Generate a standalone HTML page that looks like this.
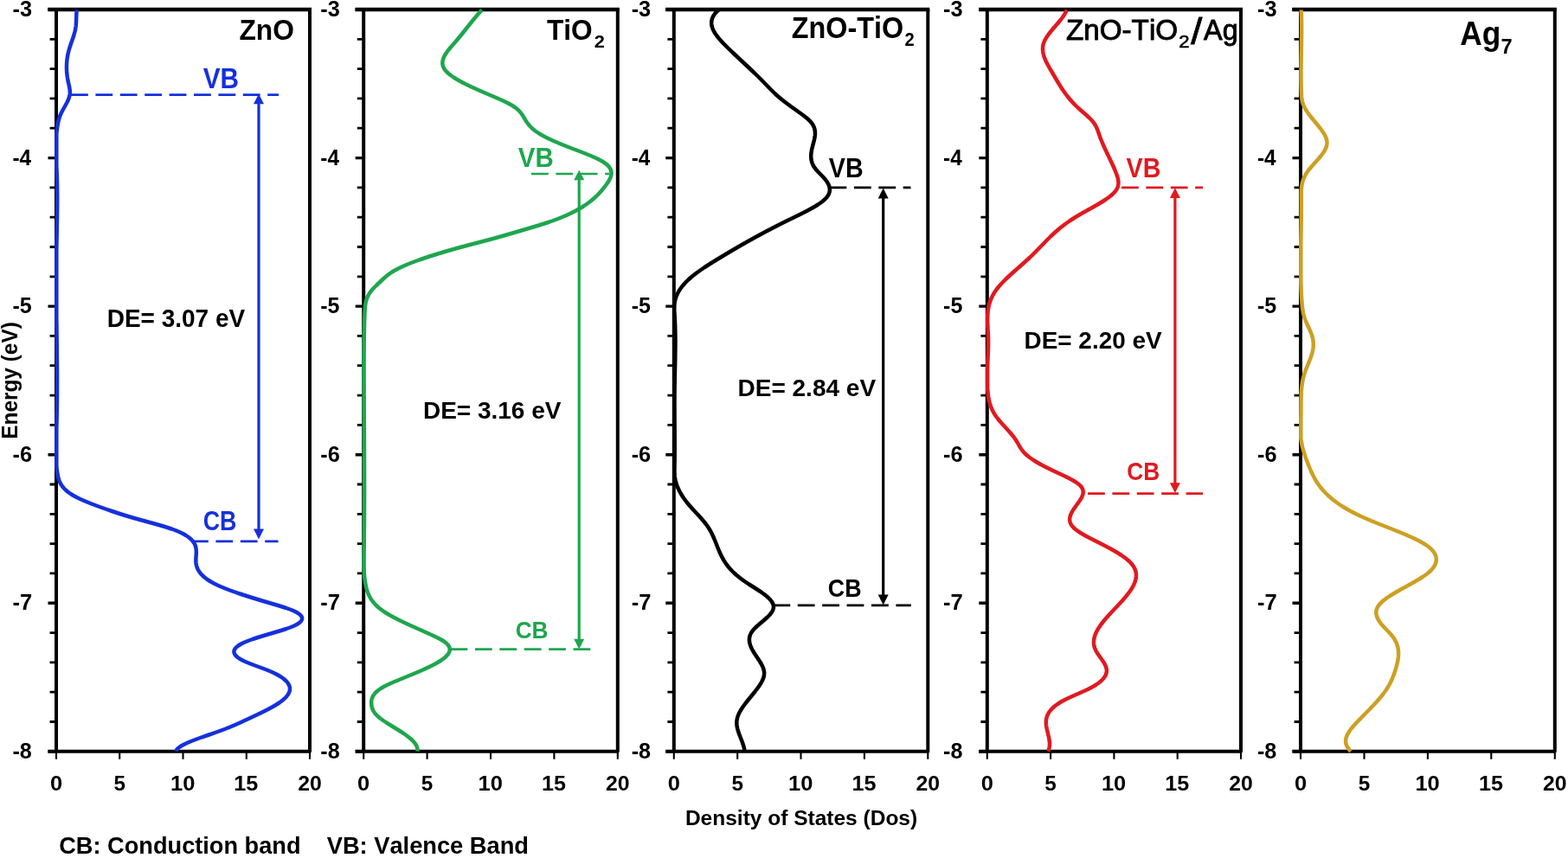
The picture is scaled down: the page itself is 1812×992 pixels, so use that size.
<!DOCTYPE html><html><head><meta charset="utf-8"><title>DOS</title><style>html,body{margin:0;padding:0;background:#fff;}svg{display:block}#w{width:1812px;height:992px;overflow:hidden}</style></head><body><div id="w">
<svg width="1812" height="992" viewBox="0 0 1812 992">
<rect width="1812" height="992" fill="#fff"/>
<path d="M55.5,11.0 H358.0 V868.8 H55.5" fill="none" stroke="#000" stroke-width="4.0" stroke-linejoin="round"/>
<path d="M55.5,11.0 H360.0" fill="none" stroke="#000" stroke-width="4.6"/>
<path d="M65.0,11.0 V868.8" fill="none" stroke="#000" stroke-width="4.0"/>
<path d="M57.6,45.3H65.0M57.6,79.6H65.0M57.6,113.9H65.0M57.6,148.2H65.0M57.6,216.9H65.0M57.6,251.2H65.0M57.6,285.5H65.0M57.6,319.8H65.0M57.6,388.4H65.0M57.6,422.7H65.0M57.6,457.1H65.0M57.6,491.4H65.0M57.6,560.0H65.0M57.6,594.3H65.0M57.6,628.6H65.0M57.6,662.9H65.0M57.6,731.6H65.0M57.6,765.9H65.0M57.6,800.2H65.0M57.6,834.5H65.0" stroke="#000" stroke-width="2.8" fill="none"/>
<path d="M55.5,11.0H65.0M55.5,182.6H65.0M55.5,354.1H65.0M55.5,525.7H65.0M55.5,697.2H65.0M55.5,868.8H65.0" stroke="#000" stroke-width="3.4" fill="none"/>
<path d="M65.0,868.8V877.8M138.2,868.8V877.8M211.5,868.8V877.8M284.8,868.8V877.8M358.0,868.8V877.8" stroke="#000" stroke-width="2.1" fill="none"/>
<path d="M410.7,11.0 H713.8 V868.8 H410.7" fill="none" stroke="#000" stroke-width="4.0" stroke-linejoin="round"/>
<path d="M410.7,11.0 H715.8" fill="none" stroke="#000" stroke-width="4.6"/>
<path d="M420.2,11.0 V868.8" fill="none" stroke="#000" stroke-width="4.0"/>
<path d="M412.8,45.3H420.2M412.8,79.6H420.2M412.8,113.9H420.2M412.8,148.2H420.2M412.8,216.9H420.2M412.8,251.2H420.2M412.8,285.5H420.2M412.8,319.8H420.2M412.8,388.4H420.2M412.8,422.7H420.2M412.8,457.1H420.2M412.8,491.4H420.2M412.8,560.0H420.2M412.8,594.3H420.2M412.8,628.6H420.2M412.8,662.9H420.2M412.8,731.6H420.2M412.8,765.9H420.2M412.8,800.2H420.2M412.8,834.5H420.2" stroke="#000" stroke-width="2.8" fill="none"/>
<path d="M410.7,11.0H420.2M410.7,182.6H420.2M410.7,354.1H420.2M410.7,525.7H420.2M410.7,697.2H420.2M410.7,868.8H420.2" stroke="#000" stroke-width="3.4" fill="none"/>
<path d="M420.2,868.8V877.8M493.6,868.8V877.8M567.0,868.8V877.8M640.4,868.8V877.8M713.8,868.8V877.8" stroke="#000" stroke-width="2.1" fill="none"/>
<path d="M769.3,11.0 H1072.3 V868.8 H769.3" fill="none" stroke="#000" stroke-width="4.0" stroke-linejoin="round"/>
<path d="M769.3,11.0 H1074.3" fill="none" stroke="#000" stroke-width="4.6"/>
<path d="M778.8,11.0 V868.8" fill="none" stroke="#000" stroke-width="4.0"/>
<path d="M771.4,45.3H778.8M771.4,79.6H778.8M771.4,113.9H778.8M771.4,148.2H778.8M771.4,216.9H778.8M771.4,251.2H778.8M771.4,285.5H778.8M771.4,319.8H778.8M771.4,388.4H778.8M771.4,422.7H778.8M771.4,457.1H778.8M771.4,491.4H778.8M771.4,560.0H778.8M771.4,594.3H778.8M771.4,628.6H778.8M771.4,662.9H778.8M771.4,731.6H778.8M771.4,765.9H778.8M771.4,800.2H778.8M771.4,834.5H778.8" stroke="#000" stroke-width="2.8" fill="none"/>
<path d="M769.3,11.0H778.8M769.3,182.6H778.8M769.3,354.1H778.8M769.3,525.7H778.8M769.3,697.2H778.8M769.3,868.8H778.8" stroke="#000" stroke-width="3.4" fill="none"/>
<path d="M778.8,868.8V877.8M852.2,868.8V877.8M925.5,868.8V877.8M998.9,868.8V877.8M1072.3,868.8V877.8" stroke="#000" stroke-width="2.1" fill="none"/>
<path d="M1131.3,11.0 H1434.0 V868.8 H1131.3" fill="none" stroke="#000" stroke-width="4.0" stroke-linejoin="round"/>
<path d="M1131.3,11.0 H1436.0" fill="none" stroke="#000" stroke-width="4.6"/>
<path d="M1140.8,11.0 V868.8" fill="none" stroke="#000" stroke-width="4.0"/>
<path d="M1133.4,45.3H1140.8M1133.4,79.6H1140.8M1133.4,113.9H1140.8M1133.4,148.2H1140.8M1133.4,216.9H1140.8M1133.4,251.2H1140.8M1133.4,285.5H1140.8M1133.4,319.8H1140.8M1133.4,388.4H1140.8M1133.4,422.7H1140.8M1133.4,457.1H1140.8M1133.4,491.4H1140.8M1133.4,560.0H1140.8M1133.4,594.3H1140.8M1133.4,628.6H1140.8M1133.4,662.9H1140.8M1133.4,731.6H1140.8M1133.4,765.9H1140.8M1133.4,800.2H1140.8M1133.4,834.5H1140.8" stroke="#000" stroke-width="2.8" fill="none"/>
<path d="M1131.3,11.0H1140.8M1131.3,182.6H1140.8M1131.3,354.1H1140.8M1131.3,525.7H1140.8M1131.3,697.2H1140.8M1131.3,868.8H1140.8" stroke="#000" stroke-width="3.4" fill="none"/>
<path d="M1140.8,868.8V877.8M1214.1,868.8V877.8M1287.4,868.8V877.8M1360.7,868.8V877.8M1434.0,868.8V877.8" stroke="#000" stroke-width="2.1" fill="none"/>
<path d="M1493.5,11.0 H1796.8 V868.8 H1493.5" fill="none" stroke="#000" stroke-width="4.0" stroke-linejoin="round"/>
<path d="M1493.5,11.0 H1798.8" fill="none" stroke="#000" stroke-width="4.6"/>
<path d="M1503.0,11.0 V868.8" fill="none" stroke="#000" stroke-width="4.0"/>
<path d="M1495.6,45.3H1503.0M1495.6,79.6H1503.0M1495.6,113.9H1503.0M1495.6,148.2H1503.0M1495.6,216.9H1503.0M1495.6,251.2H1503.0M1495.6,285.5H1503.0M1495.6,319.8H1503.0M1495.6,388.4H1503.0M1495.6,422.7H1503.0M1495.6,457.1H1503.0M1495.6,491.4H1503.0M1495.6,560.0H1503.0M1495.6,594.3H1503.0M1495.6,628.6H1503.0M1495.6,662.9H1503.0M1495.6,731.6H1503.0M1495.6,765.9H1503.0M1495.6,800.2H1503.0M1495.6,834.5H1503.0" stroke="#000" stroke-width="2.8" fill="none"/>
<path d="M1493.5,11.0H1503.0M1493.5,182.6H1503.0M1493.5,354.1H1503.0M1493.5,525.7H1503.0M1493.5,697.2H1503.0M1493.5,868.8H1503.0" stroke="#000" stroke-width="3.4" fill="none"/>
<path d="M1503.0,868.8V877.8M1576.5,868.8V877.8M1649.9,868.8V877.8M1723.3,868.8V877.8M1796.8,868.8V877.8" stroke="#000" stroke-width="2.1" fill="none"/>
<path d="M88.80,11.50L88.62,13.00L88.48,14.50L88.37,16.00L88.29,17.50L88.23,19.00L88.18,20.50L88.14,22.00L88.09,23.50L88.03,25.00L87.96,26.50L87.86,28.00L87.73,29.50L87.55,31.00L87.33,32.50L87.06,34.00L86.74,35.50L86.38,37.00L85.98,38.50L85.55,40.00L85.09,41.50L84.60,43.00L84.10,44.50L83.59,46.00L83.06,47.50L82.54,49.00L82.02,50.50L81.51,52.00L81.01,53.50L80.52,55.00L80.06,56.50L79.63,58.00L79.23,59.50L78.87,61.00L78.53,62.50L78.23,64.00L77.97,65.50L77.73,67.00L77.53,68.50L77.35,70.00L77.21,71.50L77.10,73.00L77.03,74.50L76.98,76.00L76.96,77.50L76.97,79.00L77.02,80.50L77.09,82.00L77.19,83.50L77.32,85.00L77.48,86.50L77.67,88.00L77.88,89.50L78.13,91.00L78.40,92.50L78.70,94.00L79.02,95.50L79.37,97.00L79.70,98.50L80.03,100.00L80.31,101.50L80.55,103.00L80.72,104.50L80.81,106.00L80.79,107.50L80.66,109.00L80.41,110.50L80.03,112.00L79.56,113.50L78.98,115.00L78.34,116.50L77.62,118.00L76.85,119.50L76.05,121.00L75.21,122.50L74.37,124.00L73.52,125.50L72.69,127.00L71.88,128.50L71.11,130.00L70.39,131.50L69.74,133.00L69.15,134.50L68.63,136.00L68.18,137.50L67.77,139.00L67.41,140.50L67.09,142.00L66.80,143.50L66.54,145.00L66.30,146.50L66.08,148.00L65.88,149.50L65.70,151.00L65.54,152.50L65.39,154.00L65.30,155.50L65.30,157.00L65.30,158.50L65.30,160.00L65.30,161.50L65.30,163.00L65.30,164.50L65.30,166.00L65.30,167.50L65.30,169.00L65.30,170.50L65.30,172.00L65.30,173.50L65.30,175.00L65.30,176.50L65.30,178.00L65.30,179.50L65.30,181.00L65.30,182.50L65.30,184.00L65.30,185.50L65.30,187.00L65.30,188.50L65.30,190.00L65.30,191.50L65.37,193.00L65.43,194.50L65.50,196.00L65.56,197.50L65.62,199.00L65.68,200.50L65.73,202.00L65.78,203.50L65.82,205.00L65.87,206.50L65.91,208.00L65.94,209.50L65.98,211.00L66.01,212.50L66.04,214.00L66.06,215.50L66.08,217.00L66.10,218.50L66.12,220.00L66.13,221.50L66.14,223.00L66.15,224.50L66.16,226.00L66.17,227.50L66.17,229.00L66.17,230.50L66.17,232.00L66.16,233.50L66.16,235.00L66.15,236.50L66.14,238.00L66.13,239.50L66.12,241.00L66.10,242.50L66.09,244.00L66.07,245.50L66.05,247.00L66.04,248.50L66.01,250.00L65.99,251.50L65.97,253.00L65.95,254.50L65.92,256.00L65.90,257.50L65.87,259.00L65.85,260.50L65.82,262.00L65.79,263.50L65.76,265.00L65.73,266.50L65.70,268.00L65.68,269.50L65.65,271.00L65.62,272.50L65.59,274.00L65.56,275.50L65.53,277.00L65.50,278.50L65.47,280.00L65.44,281.50L65.41,283.00L65.39,284.50L65.36,286.00L65.33,287.50L65.31,289.00L65.30,290.50L65.30,292.00L65.30,293.50L65.30,295.00L65.30,296.50L65.30,298.00L65.30,299.50L65.30,301.00L65.30,302.50L65.30,304.00L65.30,305.50L65.30,307.00L65.30,308.50L65.30,310.00L65.30,311.50L65.30,313.00L65.30,314.50L65.30,316.00L65.30,317.50L65.30,319.00L65.30,320.50L65.30,322.00L65.30,323.50L65.30,325.00L65.30,326.50L65.30,328.00L65.30,329.50L65.30,331.00L65.30,332.50L65.30,334.00L65.30,335.50L65.30,337.00L65.30,338.50L65.30,340.00L65.30,341.50L65.30,343.00L65.30,344.50L65.30,346.00L65.30,347.50L65.30,349.00L65.30,350.50L65.30,352.00L65.30,353.50L65.30,355.00L65.30,356.50L65.30,358.00L65.30,359.50L65.30,361.00L65.30,362.50L65.30,364.00L65.30,365.50L65.32,367.00L65.34,368.50L65.36,370.00L65.38,371.50L65.39,373.00L65.41,374.50L65.43,376.00L65.45,377.50L65.47,379.00L65.49,380.50L65.51,382.00L65.52,383.50L65.54,385.00L65.56,386.50L65.58,388.00L65.60,389.50L65.62,391.00L65.64,392.50L65.65,394.00L65.67,395.50L65.69,397.00L65.71,398.50L65.73,400.00L65.74,401.50L65.76,403.00L65.78,404.50L65.79,406.00L65.81,407.50L65.82,409.00L65.84,410.50L65.85,412.00L65.87,413.50L65.88,415.00L65.90,416.50L65.91,418.00L65.92,419.50L65.93,421.00L65.94,422.50L65.95,424.00L65.96,425.50L65.97,427.00L65.98,428.50L65.99,430.00L66.00,431.50L66.00,433.00L66.01,434.50L66.01,436.00L66.02,437.50L66.02,439.00L66.02,440.50L66.02,442.00L66.02,443.50L66.02,445.00L66.02,446.50L66.02,448.00L66.01,449.50L66.01,451.00L66.00,452.50L66.00,454.00L65.99,455.50L65.98,457.00L65.97,458.50L65.96,460.00L65.95,461.50L65.93,463.00L65.92,464.50L65.90,466.00L65.88,467.50L65.87,469.00L65.84,470.50L65.82,472.00L65.80,473.50L65.78,475.00L65.75,476.50L65.72,478.00L65.69,479.50L65.66,481.00L65.63,482.50L65.60,484.00L65.56,485.50L65.53,487.00L65.49,488.50L65.45,490.00L65.41,491.50L65.36,493.00L65.32,494.50L65.30,496.00L65.30,497.50L65.30,499.00L65.30,500.50L65.30,502.00L65.30,503.50L65.30,505.00L65.30,506.50L65.30,508.00L65.30,509.50L65.30,511.00L65.30,512.50L65.30,514.00L65.30,515.50L65.30,517.00L65.30,518.50L65.30,520.00L65.30,521.50L65.30,523.00L65.30,524.50L65.30,526.00L65.30,527.50L65.30,529.00L65.30,530.50L65.30,532.00L65.30,533.50L65.30,535.00L65.30,536.50L65.30,538.00L65.34,539.50L65.50,541.00L65.68,542.50L65.88,544.00L66.10,545.50L66.33,547.00L66.59,548.50L66.88,550.00L67.20,551.50L67.59,553.00L68.04,554.50L68.57,556.00L69.20,557.50L69.95,559.00L70.82,560.50L71.83,562.00L73.00,563.50L74.34,565.00L75.86,566.50L77.58,568.00L79.52,569.50L81.68,571.00L84.09,572.50L86.74,574.00L89.63,575.50L92.75,577.00L96.07,578.50L99.57,580.00L103.25,581.50L107.08,583.00L111.04,584.50L115.12,586.00L119.30,587.50L123.56,589.00L127.90,590.50L132.33,592.00L136.87,593.50L141.55,595.00L146.40,596.50L151.43,598.00L156.67,599.50L162.05,601.00L167.52,602.50L173.00,604.00L178.43,605.50L183.74,607.00L188.85,608.50L193.71,610.00L198.23,611.50L202.36,613.00L206.05,614.50L209.34,616.00L212.26,617.50L214.84,619.00L217.10,620.50L219.07,622.00L220.76,623.50L222.19,625.00L223.39,626.50L224.37,628.00L225.16,629.50L225.76,631.00L226.21,632.50L226.52,634.00L226.71,635.50L226.81,637.00L226.82,638.50L226.77,640.00L226.69,641.50L226.59,643.00L226.48,644.50L226.40,646.00L226.35,647.50L226.36,649.00L226.45,650.50L226.64,652.00L226.93,653.50L227.33,655.00L227.86,656.50L228.52,658.00L229.32,659.50L230.27,661.00L231.38,662.50L232.66,664.00L234.12,665.50L235.77,667.00L237.62,668.50L239.67,670.00L241.94,671.50L244.44,673.00L247.17,674.50L250.14,676.00L253.36,677.50L256.83,679.00L260.51,680.50L264.41,682.00L268.49,683.50L272.74,685.00L277.16,686.50L281.71,688.00L286.39,689.50L291.18,691.00L296.06,692.50L301.01,694.00L306.03,695.50L311.09,697.00L316.17,698.50L321.22,700.00L326.12,701.50L330.75,703.00L334.98,704.50L338.71,706.00L341.87,707.50L344.47,709.00L346.49,710.50L347.94,712.00L348.82,713.50L349.13,715.00L348.86,716.50L348.01,718.00L346.59,719.50L344.59,721.00L342.00,722.50L338.84,724.00L335.10,725.50L330.86,727.00L326.24,728.50L321.35,730.00L316.29,731.50L311.18,733.00L306.12,734.50L301.18,736.00L296.44,737.50L291.95,739.00L287.77,740.50L283.97,742.00L280.62,743.50L277.75,745.00L275.36,746.50L273.44,748.00L272.00,749.50L271.02,751.00L270.50,752.50L270.43,754.00L270.82,755.50L271.65,757.00L272.92,758.50L274.64,760.00L276.79,761.50L279.38,763.00L282.39,764.50L285.82,766.00L289.55,767.50L293.50,769.00L297.56,770.50L301.65,772.00L305.66,773.50L309.49,775.00L313.07,776.50L316.35,778.00L319.36,779.50L322.08,781.00L324.53,782.50L326.71,784.00L328.63,785.50L330.28,787.00L331.68,788.50L332.82,790.00L333.72,791.50L334.37,793.00L334.78,794.50L334.96,796.00L334.91,797.50L334.63,799.00L334.13,800.50L333.41,802.00L332.47,803.50L331.33,805.00L329.99,806.50L328.44,808.00L326.70,809.50L324.77,811.00L322.66,812.50L320.38,814.00L317.95,815.50L315.39,817.00L312.69,818.50L309.89,820.00L306.98,821.50L303.99,823.00L300.93,824.50L297.81,826.00L294.65,827.50L291.45,829.00L288.23,830.50L285.01,832.00L281.79,833.50L278.55,835.00L275.26,836.50L271.88,838.00L268.40,839.50L264.78,841.00L260.99,842.50L257.02,844.00L252.89,845.50L248.63,847.00L244.32,848.50L239.98,850.00L235.67,851.50L231.43,853.00L227.31,854.50L223.36,856.00L219.63,857.50L216.16,859.00L213.00,860.50L210.19,862.00L207.79,863.50L205.85,865.00L204.40,866.50L203.50,868.00L203.30,868.60" fill="none" stroke="#1530dc" stroke-width="4.5" stroke-linejoin="round" stroke-linecap="butt"/>
<path d="M556.81,11.50L555.45,13.00L554.11,14.50L552.80,16.00L551.51,17.50L550.23,19.00L548.97,20.50L547.73,22.00L546.50,23.50L545.28,25.00L544.07,26.50L542.86,28.00L541.66,29.50L540.47,31.00L539.27,32.50L538.08,34.00L536.89,35.50L535.69,37.00L534.48,38.50L533.27,40.00L532.05,41.50L530.82,43.00L529.57,44.50L528.31,46.00L527.03,47.50L525.74,49.00L524.43,50.50L523.12,52.00L521.82,53.50L520.54,55.00L519.29,56.50L518.09,58.00L516.95,59.50L515.88,61.00L514.90,62.50L514.01,64.00L513.23,65.50L512.56,67.00L512.03,68.50L511.65,70.00L511.42,71.50L511.36,73.00L511.48,74.50L511.79,76.00L512.31,77.50L513.05,79.00L514.02,80.50L515.22,82.00L516.65,83.50L518.28,85.00L520.12,86.50L522.15,88.00L524.36,89.50L526.73,91.00L529.26,92.50L531.93,94.00L534.74,95.50L537.67,97.00L540.70,98.50L543.84,100.00L547.07,101.50L550.38,103.00L553.75,104.50L557.17,106.00L560.64,107.50L564.14,109.00L567.66,110.50L571.16,112.00L574.62,113.50L578.01,115.00L581.29,116.50L584.43,118.00L587.40,119.50L590.17,121.00L592.70,122.50L594.97,124.00L596.96,125.50L598.68,127.00L600.18,128.50L601.49,130.00L602.64,131.50L603.68,133.00L604.63,134.50L605.53,136.00L606.42,137.50L607.34,139.00L608.31,140.50L609.35,142.00L610.48,143.50L611.72,145.00L613.08,146.50L614.59,148.00L616.26,149.50L618.11,151.00L620.16,152.50L622.41,154.00L624.88,155.50L627.53,157.00L630.37,158.50L633.38,160.00L636.54,161.50L639.84,163.00L643.28,164.50L646.84,166.00L650.51,167.50L654.27,169.00L658.12,170.50L662.03,172.00L665.95,173.50L669.87,175.00L673.74,176.50L677.54,178.00L681.21,179.50L684.75,181.00L688.10,182.50L691.24,184.00L694.12,185.50L696.73,187.00L699.02,188.50L700.97,190.00L702.60,191.50L703.91,193.00L704.94,194.50L705.70,196.00L706.20,197.50L706.47,199.00L706.53,200.50L706.38,202.00L706.05,203.50L705.56,205.00L704.93,206.50L704.17,208.00L703.30,209.50L702.34,211.00L701.30,212.50L700.22,214.00L699.09,215.50L697.94,217.00L696.74,218.50L695.50,220.00L694.20,221.50L692.85,223.00L691.44,224.50L689.96,226.00L688.40,227.50L686.76,229.00L685.04,230.50L683.22,232.00L681.31,233.50L679.29,235.00L677.16,236.50L674.92,238.00L672.56,239.50L670.07,241.00L667.44,242.50L664.68,244.00L661.77,245.50L658.71,247.00L655.48,248.50L652.08,250.00L648.49,251.50L644.71,253.00L640.72,254.50L636.51,256.00L632.08,257.50L627.44,259.00L622.64,260.50L617.70,262.00L612.67,263.50L607.59,265.00L602.48,266.50L597.39,268.00L592.28,269.50L587.14,271.00L581.94,272.50L576.65,274.00L571.26,275.50L565.74,277.00L560.09,278.50L554.36,280.00L548.60,281.50L542.87,283.00L537.20,284.50L531.65,286.00L526.22,287.50L520.92,289.00L515.74,290.50L510.68,292.00L505.74,293.50L500.93,295.00L496.25,296.50L491.70,298.00L487.30,299.50L483.04,301.00L478.95,302.50L475.03,304.00L471.28,305.50L467.73,307.00L464.37,308.50L461.21,310.00L458.26,311.50L455.54,313.00L453.05,314.50L450.79,316.00L448.73,317.50L446.84,319.00L445.07,320.50L443.40,322.00L441.79,323.50L440.20,325.00L438.60,326.50L437.01,328.00L435.43,329.50L433.88,331.00L432.39,332.50L430.98,334.00L429.66,335.50L428.44,337.00L427.36,338.50L426.40,340.00L425.55,341.50L424.82,343.00L424.19,344.50L423.65,346.00L423.19,347.50L422.82,349.00L422.51,350.50L422.26,352.00L422.06,353.50L421.90,355.00L421.79,356.50L421.69,358.00L421.62,359.50L421.56,361.00L421.50,362.50L421.44,364.00L421.38,365.50L421.33,367.00L421.28,368.50L421.23,370.00L421.18,371.50L421.14,373.00L421.09,374.50L421.05,376.00L421.01,377.50L420.97,379.00L420.94,380.50L420.90,382.00L420.87,383.50L420.84,385.00L420.81,386.50L420.78,388.00L420.76,389.50L420.73,391.00L420.71,392.50L420.69,394.00L420.67,395.50L420.65,397.00L420.63,398.50L420.61,400.00L420.60,401.50L420.58,403.00L420.57,404.50L420.56,406.00L420.55,407.50L420.54,409.00L420.53,410.50L420.52,412.00L420.52,413.50L420.51,415.00L420.51,416.50L420.51,418.00L420.50,419.50L420.50,421.00L420.50,422.50L420.50,424.00L420.50,425.50L420.50,427.00L420.50,428.50L420.51,430.00L420.51,431.50L420.51,433.00L420.52,434.50L420.52,436.00L420.53,437.50L420.53,439.00L420.54,440.50L420.55,442.00L420.55,443.50L420.56,445.00L420.57,446.50L420.57,448.00L420.58,449.50L420.59,451.00L420.60,452.50L420.61,454.00L420.61,455.50L420.62,457.00L420.63,458.50L420.64,460.00L420.65,461.50L420.66,463.00L420.66,464.50L420.67,466.00L420.68,467.50L420.69,469.00L420.70,470.50L420.71,472.00L420.72,473.50L420.73,475.00L420.73,476.50L420.74,478.00L420.75,479.50L420.76,481.00L420.77,482.50L420.78,484.00L420.79,485.50L420.80,487.00L420.81,488.50L420.82,490.00L420.83,491.50L420.83,493.00L420.84,494.50L420.85,496.00L420.86,497.50L420.87,499.00L420.88,500.50L420.89,502.00L420.90,503.50L420.90,505.00L420.91,506.50L420.92,508.00L420.93,509.50L420.94,511.00L420.94,512.50L420.95,514.00L420.96,515.50L420.97,517.00L420.97,518.50L420.98,520.00L420.99,521.50L421.00,523.00L421.00,524.50L421.01,526.00L421.02,527.50L421.02,529.00L421.03,530.50L421.03,532.00L421.04,533.50L421.05,535.00L421.05,536.50L421.06,538.00L421.06,539.50L421.07,541.00L421.07,542.50L421.07,544.00L421.08,545.50L421.08,547.00L421.09,548.50L421.09,550.00L421.09,551.50L421.09,553.00L421.10,554.50L421.10,556.00L421.10,557.50L421.10,559.00L421.10,560.50L421.10,562.00L421.10,563.50L421.11,565.00L421.11,566.50L421.10,568.00L421.10,569.50L421.10,571.00L421.10,572.50L421.10,574.00L421.10,575.50L421.10,577.00L421.09,578.50L421.09,580.00L421.09,581.50L421.08,583.00L421.08,584.50L421.07,586.00L421.07,587.50L421.06,589.00L421.06,590.50L421.05,592.00L421.04,593.50L421.03,595.00L421.03,596.50L421.02,598.00L421.01,599.50L421.00,601.00L420.99,602.50L420.98,604.00L420.97,605.50L420.96,607.00L420.95,608.50L420.94,610.00L420.92,611.50L420.91,613.00L420.90,614.50L420.88,616.00L420.87,617.50L420.85,619.00L420.84,620.50L420.82,622.00L420.80,623.50L420.79,625.00L420.77,626.50L420.75,628.00L420.73,629.50L420.71,631.00L420.69,632.50L420.67,634.00L420.65,635.50L420.63,637.00L420.60,638.50L420.58,640.00L420.56,641.50L420.53,643.00L420.51,644.50L420.50,646.00L420.50,647.50L420.50,649.00L420.50,650.50L420.50,652.00L420.50,653.50L420.51,655.00L420.54,656.50L420.59,658.00L420.65,659.50L420.73,661.00L420.82,662.50L420.93,664.00L421.05,665.50L421.20,667.00L421.37,668.50L421.56,670.00L421.77,671.50L422.00,673.00L422.26,674.50L422.55,676.00L422.87,677.50L423.21,679.00L423.59,680.50L424.01,682.00L424.48,683.50L425.01,685.00L425.60,686.50L426.25,688.00L426.99,689.50L427.81,691.00L428.72,692.50L429.72,694.00L430.83,695.50L432.05,697.00L433.39,698.50L434.85,700.00L436.45,701.50L438.19,703.00L440.07,704.50L442.10,706.00L444.29,707.50L446.64,709.00L449.13,710.50L451.76,712.00L454.50,713.50L457.36,715.00L460.33,716.50L463.38,718.00L466.51,719.50L469.70,721.00L472.96,722.50L476.26,724.00L479.59,725.50L482.95,727.00L486.31,728.50L489.67,730.00L493.01,731.50L496.33,733.00L499.60,734.50L502.82,736.00L505.90,737.50L508.79,739.00L511.42,740.50L513.72,742.00L515.64,743.50L517.18,745.00L518.35,746.50L519.16,748.00L519.63,749.50L519.76,751.00L519.58,752.50L519.09,754.00L518.30,755.50L517.24,757.00L515.90,758.50L514.30,760.00L512.47,761.50L510.40,763.00L508.12,764.50L505.64,766.00L502.98,767.50L500.15,769.00L497.16,770.50L494.04,772.00L490.79,773.50L487.44,775.00L484.00,776.50L480.48,778.00L476.89,779.50L473.26,781.00L469.60,782.50L465.92,784.00L462.24,785.50L458.60,787.00L455.05,788.50L451.62,790.00L448.35,791.50L445.30,793.00L442.51,794.50L440.02,796.00L437.83,797.50L435.95,799.00L434.33,800.50L432.98,802.00L431.86,803.50L430.96,805.00L430.26,806.50L429.74,808.00L429.39,809.50L429.18,811.00L429.12,812.50L429.18,814.00L429.36,815.50L429.63,817.00L430.03,818.50L430.57,820.00L431.27,821.50L432.13,823.00L433.18,824.50L434.44,826.00L435.91,827.50L437.58,829.00L439.42,830.50L441.42,832.00L443.55,833.50L445.79,835.00L448.11,836.50L450.50,838.00L452.93,839.50L455.39,841.00L457.83,842.50L460.26,844.00L462.64,845.50L464.95,847.00L467.17,848.50L469.29,850.00L471.30,851.50L473.19,853.00L474.93,854.50L476.53,856.00L477.97,857.50L479.22,859.00L480.29,860.50L481.16,862.00L481.82,863.50L482.25,865.00L482.44,866.50L482.37,868.00L482.28,868.60" fill="none" stroke="#1fa64e" stroke-width="4.5" stroke-linejoin="round" stroke-linecap="butt"/>
<path d="M830.49,11.50L828.81,13.00L827.33,14.50L826.06,16.00L824.98,17.50L824.08,19.00L823.37,20.50L822.83,22.00L822.46,23.50L822.25,25.00L822.19,26.50L822.28,28.00L822.50,29.50L822.86,31.00L823.34,32.50L823.94,34.00L824.65,35.50L825.46,37.00L826.37,38.50L827.37,40.00L828.46,41.50L829.62,43.00L830.85,44.50L832.14,46.00L833.48,47.50L834.87,49.00L836.31,50.50L837.78,52.00L839.27,53.50L840.79,55.00L842.32,56.50L843.86,58.00L845.42,59.50L846.99,61.00L848.56,62.50L850.15,64.00L851.74,65.50L853.34,67.00L854.95,68.50L856.55,70.00L858.16,71.50L859.77,73.00L861.38,74.50L862.98,76.00L864.58,77.50L866.17,79.00L867.76,80.50L869.34,82.00L870.91,83.50L872.47,85.00L874.02,86.50L875.55,88.00L877.07,89.50L878.57,91.00L880.05,92.50L881.52,94.00L882.97,95.50L884.41,97.00L885.86,98.50L887.30,100.00L888.76,101.50L890.23,103.00L891.73,104.50L893.26,106.00L894.82,107.50L896.42,109.00L898.07,110.50L899.78,112.00L901.54,113.50L903.37,115.00L905.25,116.50L907.18,118.00L909.16,119.50L911.17,121.00L913.21,122.50L915.28,124.00L917.37,125.50L919.46,127.00L921.57,128.50L923.67,130.00L925.76,131.50L927.80,133.00L929.78,134.50L931.66,136.00L933.43,137.50L935.05,139.00L936.51,140.50L937.78,142.00L938.85,143.50L939.75,145.00L940.47,146.50L941.03,148.00L941.45,149.50L941.74,151.00L941.90,152.50L941.95,154.00L941.91,155.50L941.78,157.00L941.57,158.50L941.30,160.00L940.98,161.50L940.62,163.00L940.24,164.50L939.84,166.00L939.44,167.50L939.05,169.00L938.67,170.50L938.33,172.00L938.01,173.50L937.74,175.00L937.52,176.50L937.35,178.00L937.26,179.50L937.24,181.00L937.30,182.50L937.46,184.00L937.72,185.50L938.08,187.00L938.57,188.50L939.18,190.00L939.92,191.50L940.81,193.00L941.85,194.50L943.04,196.00L944.35,197.50L945.74,199.00L947.19,200.50L948.66,202.00L950.12,203.50L951.54,205.00L952.87,206.50L954.09,208.00L955.20,209.50L956.18,211.00L957.02,212.50L957.71,214.00L958.25,215.50L958.62,217.00L958.82,218.50L958.84,220.00L958.67,221.50L958.29,223.00L957.71,224.50L956.91,226.00L955.88,227.50L954.62,229.00L953.14,230.50L951.45,232.00L949.56,233.50L947.50,235.00L945.27,236.50L942.89,238.00L940.37,239.50L937.74,241.00L935.00,242.50L932.16,244.00L929.25,245.50L926.28,247.00L923.26,248.50L920.20,250.00L917.13,251.50L914.05,253.00L910.99,254.50L907.94,256.00L904.93,257.50L901.94,259.00L898.97,260.50L896.04,262.00L893.13,263.50L890.24,265.00L887.38,266.50L884.54,268.00L881.72,269.50L878.93,271.00L876.16,272.50L873.41,274.00L870.68,275.50L867.97,277.00L865.28,278.50L862.62,280.00L859.97,281.50L857.33,283.00L854.72,284.50L852.13,286.00L849.55,287.50L846.98,289.00L844.44,290.50L841.90,292.00L839.39,293.50L836.88,295.00L834.39,296.50L831.92,298.00L829.45,299.50L827.00,301.00L824.57,302.50L822.16,304.00L819.78,305.50L817.43,307.00L815.13,308.50L812.87,310.00L810.66,311.50L808.50,313.00L806.40,314.50L804.37,316.00L802.41,317.50L800.53,319.00L798.73,320.50L797.01,322.00L795.37,323.50L793.81,325.00L792.34,326.50L790.95,328.00L789.63,329.50L788.40,331.00L787.25,332.50L786.18,334.00L785.18,335.50L784.27,337.00L783.44,338.50L782.68,340.00L782.01,341.50L781.41,343.00L780.89,344.50L780.45,346.00L780.08,347.50L779.79,349.00L779.57,350.50L779.42,352.00L779.32,353.50L779.26,355.00L779.25,356.50L779.28,358.00L779.33,359.50L779.40,361.00L779.49,362.50L779.58,364.00L779.67,365.50L779.75,367.00L779.83,368.50L779.91,370.00L779.98,371.50L780.04,373.00L780.10,374.50L780.15,376.00L780.20,377.50L780.24,379.00L780.28,380.50L780.32,382.00L780.35,383.50L780.38,385.00L780.40,386.50L780.42,388.00L780.43,389.50L780.44,391.00L780.45,392.50L780.46,394.00L780.46,395.50L780.46,397.00L780.46,398.50L780.45,400.00L780.44,401.50L780.43,403.00L780.41,404.50L780.40,406.00L780.38,407.50L780.36,409.00L780.34,410.50L780.32,412.00L780.29,413.50L780.26,415.00L780.24,416.50L780.21,418.00L780.18,419.50L780.15,421.00L780.12,422.50L780.09,424.00L780.05,425.50L780.02,427.00L779.99,428.50L779.96,430.00L779.93,431.50L779.90,433.00L779.86,434.50L779.83,436.00L779.80,437.50L779.77,439.00L779.75,440.50L779.72,442.00L779.69,443.50L779.67,445.00L779.65,446.50L779.63,448.00L779.61,449.50L779.59,451.00L779.57,452.50L779.56,454.00L779.55,455.50L779.54,457.00L779.53,458.50L779.52,460.00L779.52,461.50L779.51,463.00L779.51,464.50L779.51,466.00L779.51,467.50L779.51,469.00L779.51,470.50L779.52,472.00L779.52,473.50L779.53,475.00L779.53,476.50L779.54,478.00L779.55,479.50L779.55,481.00L779.56,482.50L779.57,484.00L779.58,485.50L779.59,487.00L779.60,488.50L779.61,490.00L779.62,491.50L779.63,493.00L779.64,494.50L779.65,496.00L779.65,497.50L779.66,499.00L779.67,500.50L779.68,502.00L779.69,503.50L779.69,505.00L779.70,506.50L779.70,508.00L779.71,509.50L779.71,511.00L779.71,512.50L779.72,514.00L779.72,515.50L779.72,517.00L779.71,518.50L779.71,520.00L779.71,521.50L779.70,523.00L779.69,524.50L779.68,526.00L779.67,527.50L779.66,529.00L779.64,530.50L779.63,532.00L779.61,533.50L779.59,535.00L779.56,536.50L779.54,538.00L779.51,539.50L779.48,541.00L779.46,542.50L779.44,544.00L779.45,545.50L779.49,547.00L779.56,548.50L779.68,550.00L779.86,551.50L780.09,553.00L780.37,554.50L780.71,556.00L781.10,557.50L781.55,559.00L782.04,560.50L782.59,562.00L783.20,563.50L783.85,565.00L784.56,566.50L785.31,568.00L786.12,569.50L786.97,571.00L787.88,572.50L788.83,574.00L789.83,575.50L790.88,577.00L791.98,578.50L793.13,580.00L794.32,581.50L795.56,583.00L796.84,584.50L798.15,586.00L799.49,587.50L800.85,589.00L802.23,590.50L803.62,592.00L805.01,593.50L806.40,595.00L807.77,596.50L809.13,598.00L810.47,599.50L811.78,601.00L813.06,602.50L814.29,604.00L815.47,605.50L816.60,607.00L817.67,608.50L818.68,610.00L819.63,611.50L820.51,613.00L821.35,614.50L822.15,616.00L822.90,617.50L823.61,619.00L824.29,620.50L824.95,622.00L825.58,623.50L826.19,625.00L826.80,626.50L827.39,628.00L827.98,629.50L828.57,631.00L829.16,632.50L829.76,634.00L830.38,635.50L831.01,637.00L831.66,638.50L832.34,640.00L833.05,641.50L833.79,643.00L834.57,644.50L835.39,646.00L836.26,647.50L837.18,649.00L838.16,650.50L839.20,652.00L840.29,653.50L841.46,655.00L842.70,656.50L844.01,658.00L845.41,659.50L846.89,661.00L848.45,662.50L850.10,664.00L851.83,665.50L853.65,667.00L855.55,668.50L857.54,670.00L859.61,671.50L861.76,673.00L864.00,674.50L866.31,676.00L868.66,677.50L871.03,679.00L873.41,680.50L875.75,682.00L878.03,683.50L880.24,685.00L882.34,686.50L884.31,688.00L886.15,689.50L887.83,691.00L889.33,692.50L890.66,694.00L891.78,695.50L892.68,697.00L893.36,698.50L893.79,700.00L893.96,701.50L893.85,703.00L893.49,704.50L892.89,706.00L892.05,707.50L891.01,709.00L889.78,710.50L888.39,712.00L886.87,713.50L885.24,715.00L883.54,716.50L881.78,718.00L880.00,719.50L878.22,721.00L876.48,722.50L874.79,724.00L873.19,725.50L871.70,727.00L870.35,728.50L869.17,730.00L868.18,731.50L867.39,733.00L866.77,734.50L866.33,736.00L866.05,737.50L865.92,739.00L865.93,740.50L866.08,742.00L866.36,743.50L866.75,745.00L867.25,746.50L867.84,748.00L868.52,749.50L869.28,751.00L870.10,752.50L870.99,754.00L871.93,755.50L872.90,757.00L873.90,758.50L874.91,760.00L875.91,761.50L876.91,763.00L877.87,764.50L878.80,766.00L879.67,767.50L880.47,769.00L881.19,770.50L881.82,772.00L882.35,773.50L882.75,775.00L883.02,776.50L883.15,778.00L883.12,779.50L882.93,781.00L882.60,782.50L882.14,784.00L881.56,785.50L880.88,787.00L880.10,788.50L879.24,790.00L878.31,791.50L877.33,793.00L876.29,794.50L875.21,796.00L874.08,797.50L872.93,799.00L871.74,800.50L870.54,802.00L869.32,803.50L868.09,805.00L866.86,806.50L865.63,808.00L864.41,809.50L863.21,811.00L862.03,812.50L860.88,814.00L859.77,815.50L858.70,817.00L857.67,818.50L856.70,820.00L855.79,821.50L854.95,823.00L854.17,824.50L853.48,826.00L852.87,827.50L852.36,829.00L851.94,830.50L851.63,832.00L851.42,833.50L851.33,835.00L851.34,836.50L851.44,838.00L851.64,839.50L851.90,841.00L852.24,842.50L852.64,844.00L853.09,845.50L853.59,847.00L854.12,848.50L854.68,850.00L855.26,851.50L855.84,853.00L856.43,854.50L857.01,856.00L857.58,857.50L858.13,859.00L858.64,860.50L859.11,862.00L859.53,863.50L859.90,865.00L860.20,866.50L860.42,868.00L860.49,868.60" fill="none" stroke="#000" stroke-width="4.5" stroke-linejoin="round" stroke-linecap="butt"/>
<path d="M1232.80,11.50L1232.15,13.00L1231.40,14.50L1230.55,16.00L1229.61,17.50L1228.60,19.00L1227.52,20.50L1226.38,22.00L1225.20,23.50L1223.97,25.00L1222.72,26.50L1221.44,28.00L1220.15,29.50L1218.85,31.00L1217.56,32.50L1216.29,34.00L1215.04,35.50L1213.82,37.00L1212.65,38.50L1211.52,40.00L1210.46,41.50L1209.47,43.00L1208.55,44.50L1207.72,46.00L1206.99,47.50L1206.37,49.00L1205.86,50.50L1205.47,52.00L1205.20,53.50L1205.04,55.00L1204.99,56.50L1205.04,58.00L1205.18,59.50L1205.41,61.00L1205.73,62.50L1206.12,64.00L1206.59,65.50L1207.12,67.00L1207.71,68.50L1208.36,70.00L1209.06,71.50L1209.80,73.00L1210.58,74.50L1211.39,76.00L1212.23,77.50L1213.09,79.00L1213.96,80.50L1214.85,82.00L1215.73,83.50L1216.62,85.00L1217.50,86.50L1218.38,88.00L1219.26,89.50L1220.14,91.00L1221.02,92.50L1221.92,94.00L1222.82,95.50L1223.73,97.00L1224.66,98.50L1225.60,100.00L1226.57,101.50L1227.55,103.00L1228.56,104.50L1229.60,106.00L1230.67,107.50L1231.77,109.00L1232.91,110.50L1234.08,112.00L1235.29,113.50L1236.55,115.00L1237.85,116.50L1239.20,118.00L1240.59,119.50L1242.04,121.00L1243.55,122.50L1245.11,124.00L1246.74,125.50L1248.41,127.00L1250.13,128.50L1251.86,130.00L1253.58,131.50L1255.29,133.00L1256.95,134.50L1258.55,136.00L1260.07,137.50L1261.49,139.00L1262.79,140.50L1263.96,142.00L1264.98,143.50L1265.89,145.00L1266.69,146.50L1267.40,148.00L1268.04,149.50L1268.62,151.00L1269.16,152.50L1269.67,154.00L1270.18,155.50L1270.70,157.00L1271.23,158.50L1271.79,160.00L1272.37,161.50L1272.98,163.00L1273.60,164.50L1274.24,166.00L1274.89,167.50L1275.56,169.00L1276.24,170.50L1276.93,172.00L1277.64,173.50L1278.35,175.00L1279.06,176.50L1279.78,178.00L1280.50,179.50L1281.22,181.00L1281.95,182.50L1282.67,184.00L1283.38,185.50L1284.09,187.00L1284.79,188.50L1285.49,190.00L1286.17,191.50L1286.84,193.00L1287.49,194.50L1288.13,196.00L1288.76,197.50L1289.36,199.00L1289.94,200.50L1290.50,202.00L1291.01,203.50L1291.47,205.00L1291.86,206.50L1292.16,208.00L1292.36,209.50L1292.45,211.00L1292.40,212.50L1292.21,214.00L1291.86,215.50L1291.34,217.00L1290.63,218.50L1289.71,220.00L1288.58,221.50L1287.24,223.00L1285.70,224.50L1283.99,226.00L1282.12,227.50L1280.10,229.00L1277.94,230.50L1275.67,232.00L1273.29,233.50L1270.82,235.00L1268.28,236.50L1265.68,238.00L1263.04,239.50L1260.36,241.00L1257.68,242.50L1254.99,244.00L1252.32,245.50L1249.68,247.00L1247.08,248.50L1244.54,250.00L1242.08,251.50L1239.71,253.00L1237.42,254.50L1235.21,256.00L1233.08,257.50L1231.02,259.00L1229.02,260.50L1227.10,262.00L1225.23,263.50L1223.42,265.00L1221.66,266.50L1219.95,268.00L1218.29,269.50L1216.66,271.00L1215.07,272.50L1213.52,274.00L1211.99,275.50L1210.48,277.00L1209.00,278.50L1207.53,280.00L1206.08,281.50L1204.63,283.00L1203.19,284.50L1201.75,286.00L1200.30,287.50L1198.85,289.00L1197.38,290.50L1195.90,292.00L1194.40,293.50L1192.87,295.00L1191.32,296.50L1189.73,298.00L1188.12,299.50L1186.48,301.00L1184.82,302.50L1183.14,304.00L1181.45,305.50L1179.74,307.00L1178.04,308.50L1176.33,310.00L1174.62,311.50L1172.92,313.00L1171.23,314.50L1169.56,316.00L1167.91,317.50L1166.27,319.00L1164.67,320.50L1163.10,322.00L1161.56,323.50L1160.06,325.00L1158.60,326.50L1157.19,328.00L1155.83,329.50L1154.53,331.00L1153.28,332.50L1152.10,334.00L1150.99,335.50L1149.94,337.00L1148.97,338.50L1148.08,340.00L1147.24,341.50L1146.48,343.00L1145.78,344.50L1145.14,346.00L1144.55,347.50L1144.03,349.00L1143.55,350.50L1143.13,352.00L1142.76,353.50L1142.43,355.00L1142.15,356.50L1141.91,358.00L1141.70,359.50L1141.54,361.00L1141.40,362.50L1141.30,364.00L1141.23,365.50L1141.18,367.00L1141.16,368.50L1141.16,370.00L1141.18,371.50L1141.21,373.00L1141.26,374.50L1141.33,376.00L1141.40,377.50L1141.47,379.00L1141.56,380.50L1141.64,382.00L1141.72,383.50L1141.81,385.00L1141.88,386.50L1141.95,388.00L1142.01,389.50L1142.05,391.00L1142.08,392.50L1142.10,394.00L1142.11,395.50L1142.11,397.00L1142.10,398.50L1142.07,400.00L1142.04,401.50L1142.01,403.00L1141.96,404.50L1141.91,406.00L1141.85,407.50L1141.79,409.00L1141.73,410.50L1141.66,412.00L1141.59,413.50L1141.52,415.00L1141.45,416.50L1141.38,418.00L1141.30,419.50L1141.23,421.00L1141.17,422.50L1141.10,424.00L1141.10,425.50L1141.10,427.00L1141.10,428.50L1141.10,430.00L1141.10,431.50L1141.10,433.00L1141.10,434.50L1141.10,436.00L1141.10,437.50L1141.10,439.00L1141.10,440.50L1141.10,442.00L1141.10,443.50L1141.10,445.00L1141.10,446.50L1141.10,448.00L1141.21,449.50L1141.33,451.00L1141.47,452.50L1141.62,454.00L1141.80,455.50L1142.00,457.00L1142.21,458.50L1142.46,460.00L1142.74,461.50L1143.04,463.00L1143.39,464.50L1143.78,466.00L1144.21,467.50L1144.70,469.00L1145.23,470.50L1145.82,472.00L1146.48,473.50L1147.19,475.00L1147.97,476.50L1148.83,478.00L1149.76,479.50L1150.77,481.00L1151.85,482.50L1153.00,484.00L1154.21,485.50L1155.46,487.00L1156.75,488.50L1158.08,490.00L1159.43,491.50L1160.80,493.00L1162.17,494.50L1163.54,496.00L1164.90,497.50L1166.24,499.00L1167.56,500.50L1168.84,502.00L1170.08,503.50L1171.26,505.00L1172.39,506.50L1173.45,508.00L1174.43,509.50L1175.34,511.00L1176.20,512.50L1177.05,514.00L1177.90,515.50L1178.78,517.00L1179.72,518.50L1180.76,520.00L1181.90,521.50L1183.19,523.00L1184.64,524.50L1186.27,526.00L1188.06,527.50L1190.01,529.00L1192.11,530.50L1194.35,532.00L1196.73,533.50L1199.23,535.00L1201.86,536.50L1204.60,538.00L1207.45,539.50L1210.40,541.00L1213.44,542.50L1216.57,544.00L1219.76,545.50L1222.98,547.00L1226.20,548.50L1229.37,550.00L1232.46,551.50L1235.44,553.00L1238.27,554.50L1240.91,556.00L1243.32,557.50L1245.47,559.00L1247.33,560.50L1248.85,562.00L1250.02,563.50L1250.87,565.00L1251.41,566.50L1251.68,568.00L1251.69,569.50L1251.48,571.00L1251.07,572.50L1250.49,574.00L1249.76,575.50L1248.90,577.00L1247.95,578.50L1246.93,580.00L1245.86,581.50L1244.77,583.00L1243.67,584.50L1242.59,586.00L1241.54,587.50L1240.54,589.00L1239.60,590.50L1238.74,592.00L1237.97,593.50L1237.32,595.00L1236.80,596.50L1236.42,598.00L1236.20,599.50L1236.16,601.00L1236.32,602.50L1236.68,604.00L1237.28,605.50L1238.12,607.00L1239.22,608.50L1240.59,610.00L1242.23,611.50L1244.12,613.00L1246.23,614.50L1248.53,616.00L1251.00,617.50L1253.62,619.00L1256.36,620.50L1259.19,622.00L1262.10,623.50L1265.06,625.00L1268.03,626.50L1271.01,628.00L1273.96,629.50L1276.86,631.00L1279.71,632.50L1282.50,634.00L1285.21,635.50L1287.84,637.00L1290.38,638.50L1292.83,640.00L1295.16,641.50L1297.38,643.00L1299.48,644.50L1301.44,646.00L1303.25,647.50L1304.92,649.00L1306.42,650.50L1307.76,652.00L1308.93,653.50L1309.94,655.00L1310.79,656.50L1311.49,658.00L1312.05,659.50L1312.47,661.00L1312.76,662.50L1312.91,664.00L1312.95,665.50L1312.86,667.00L1312.67,668.50L1312.37,670.00L1311.97,671.50L1311.47,673.00L1310.89,674.50L1310.22,676.00L1309.47,677.50L1308.64,679.00L1307.75,680.50L1306.80,682.00L1305.78,683.50L1304.71,685.00L1303.59,686.50L1302.42,688.00L1301.21,689.50L1299.95,691.00L1298.67,692.50L1297.35,694.00L1296.00,695.50L1294.64,697.00L1293.25,698.50L1291.85,700.00L1290.44,701.50L1289.03,703.00L1287.61,704.50L1286.19,706.00L1284.79,707.50L1283.39,709.00L1282.01,710.50L1280.65,712.00L1279.31,713.50L1278.00,715.00L1276.72,716.50L1275.48,718.00L1274.28,719.50L1273.12,721.00L1272.01,722.50L1270.96,724.00L1269.96,725.50L1269.02,727.00L1268.15,728.50L1267.35,730.00L1266.62,731.50L1265.97,733.00L1265.41,734.50L1264.93,736.00L1264.54,737.50L1264.24,739.00L1264.04,740.50L1263.95,742.00L1263.97,743.50L1264.09,745.00L1264.33,746.50L1264.69,748.00L1265.18,749.50L1265.79,751.00L1266.53,752.50L1267.39,754.00L1268.32,755.50L1269.33,757.00L1270.38,758.50L1271.46,760.00L1272.53,761.50L1273.59,763.00L1274.61,764.50L1275.57,766.00L1276.45,767.50L1277.22,769.00L1277.87,770.50L1278.37,772.00L1278.70,773.50L1278.85,775.00L1278.80,776.50L1278.54,778.00L1278.09,779.50L1277.43,781.00L1276.56,782.50L1275.48,784.00L1274.20,785.50L1272.69,787.00L1270.98,788.50L1269.04,790.00L1266.88,791.50L1264.50,793.00L1261.89,794.50L1259.05,796.00L1256.00,797.50L1252.78,799.00L1249.43,800.50L1246.02,802.00L1242.59,803.50L1239.20,805.00L1235.89,806.50L1232.72,808.00L1229.75,809.50L1227.00,811.00L1224.48,812.50L1222.18,814.00L1220.10,815.50L1218.22,817.00L1216.55,818.50L1215.06,820.00L1213.75,821.50L1212.62,823.00L1211.65,824.50L1210.85,826.00L1210.19,827.50L1209.67,829.00L1209.29,830.50L1209.03,832.00L1208.87,833.50L1208.82,835.00L1208.85,836.50L1208.97,838.00L1209.15,839.50L1209.39,841.00L1209.67,842.50L1210.00,844.00L1210.35,845.50L1210.71,847.00L1211.08,848.50L1211.44,850.00L1211.79,851.50L1212.11,853.00L1212.39,854.50L1212.63,856.00L1212.81,857.50L1212.92,859.00L1212.95,860.50L1212.89,862.00L1212.73,863.50L1212.46,865.00L1212.07,866.50L1211.54,868.00L1211.30,868.60" fill="none" stroke="#e01a20" stroke-width="4.5" stroke-linejoin="round" stroke-linecap="butt"/>
<path d="M1503.70,11.50L1503.76,13.00L1503.82,14.50L1503.87,16.00L1503.92,17.50L1503.96,19.00L1504.00,20.50L1504.03,22.00L1504.06,23.50L1504.08,25.00L1504.10,26.50L1504.11,28.00L1504.13,29.50L1504.13,31.00L1504.14,32.50L1504.14,34.00L1504.13,35.50L1504.13,37.00L1504.12,38.50L1504.11,40.00L1504.10,41.50L1504.08,43.00L1504.06,44.50L1504.04,46.00L1504.02,47.50L1504.00,49.00L1503.98,50.50L1503.95,52.00L1503.93,53.50L1503.90,55.00L1503.87,56.50L1503.84,58.00L1503.82,59.50L1503.79,61.00L1503.76,62.50L1503.73,64.00L1503.71,65.50L1503.68,67.00L1503.65,68.50L1503.63,70.00L1503.61,71.50L1503.58,73.00L1503.56,74.50L1503.55,76.00L1503.53,77.50L1503.52,79.00L1503.50,80.50L1503.50,82.00L1503.49,83.50L1503.48,85.00L1503.48,86.50L1503.49,88.00L1503.49,89.50L1503.50,91.00L1503.52,92.50L1503.53,94.00L1503.55,95.50L1503.58,97.00L1503.61,98.50L1503.65,100.00L1503.69,101.50L1503.73,103.00L1503.78,104.50L1503.84,106.00L1503.90,107.50L1503.97,109.00L1504.06,110.50L1504.18,112.00L1504.34,113.50L1504.55,115.00L1504.83,116.50L1505.17,118.00L1505.60,119.50L1506.11,121.00L1506.73,122.50L1507.44,124.00L1508.24,125.50L1509.12,127.00L1510.07,128.50L1511.08,130.00L1512.15,131.50L1513.26,133.00L1514.42,134.50L1515.61,136.00L1516.83,137.50L1518.06,139.00L1519.30,140.50L1520.55,142.00L1521.78,143.50L1523.01,145.00L1524.21,146.50L1525.38,148.00L1526.52,149.50L1527.61,151.00L1528.65,152.50L1529.63,154.00L1530.52,155.50L1531.33,157.00L1532.03,158.50L1532.61,160.00L1533.06,161.50L1533.36,163.00L1533.51,164.50L1533.48,166.00L1533.29,167.50L1532.93,169.00L1532.44,170.50L1531.80,172.00L1531.05,173.50L1530.18,175.00L1529.21,176.50L1528.16,178.00L1527.03,179.50L1525.83,181.00L1524.58,182.50L1523.29,184.00L1521.96,185.50L1520.62,187.00L1519.27,188.50L1517.92,190.00L1516.59,191.50L1515.29,193.00L1514.02,194.50L1512.81,196.00L1511.65,197.50L1510.57,199.00L1509.58,200.50L1508.67,202.00L1507.87,203.50L1507.15,205.00L1506.53,206.50L1505.98,208.00L1505.50,209.50L1505.10,211.00L1504.76,212.50L1504.48,214.00L1504.25,215.50L1504.08,217.00L1503.94,218.50L1503.84,220.00L1503.78,221.50L1503.74,223.00L1503.72,224.50L1503.72,226.00L1503.74,227.50L1503.75,229.00L1503.77,230.50L1503.79,232.00L1503.80,233.50L1503.81,235.00L1503.81,236.50L1503.82,238.00L1503.82,239.50L1503.82,241.00L1503.81,242.50L1503.81,244.00L1503.80,245.50L1503.79,247.00L1503.78,248.50L1503.76,250.00L1503.75,251.50L1503.73,253.00L1503.71,254.50L1503.69,256.00L1503.67,257.50L1503.65,259.00L1503.63,260.50L1503.61,262.00L1503.58,263.50L1503.56,265.00L1503.53,266.50L1503.50,268.00L1503.48,269.50L1503.45,271.00L1503.42,272.50L1503.40,274.00L1503.37,275.50L1503.34,277.00L1503.32,278.50L1503.30,280.00L1503.30,281.50L1503.30,283.00L1503.30,284.50L1503.30,286.00L1503.30,287.50L1503.30,289.00L1503.30,290.50L1503.30,292.00L1503.30,293.50L1503.30,295.00L1503.30,296.50L1503.30,298.00L1503.30,299.50L1503.30,301.00L1503.30,302.50L1503.30,304.00L1503.30,305.50L1503.30,307.00L1503.30,308.50L1503.30,310.00L1503.30,311.50L1503.30,313.00L1503.30,314.50L1503.30,316.00L1503.30,317.50L1503.30,319.00L1503.30,320.50L1503.30,322.00L1503.30,323.50L1503.30,325.00L1503.30,326.50L1503.35,328.00L1503.40,329.50L1503.45,331.00L1503.51,332.50L1503.57,334.00L1503.64,335.50L1503.71,337.00L1503.79,338.50L1503.87,340.00L1503.95,341.50L1504.04,343.00L1504.14,344.50L1504.24,346.00L1504.35,347.50L1504.46,349.00L1504.58,350.50L1504.70,352.00L1504.84,353.50L1505.00,355.00L1505.18,356.50L1505.39,358.00L1505.62,359.50L1505.89,361.00L1506.20,362.50L1506.56,364.00L1506.96,365.50L1507.41,367.00L1507.92,368.50L1508.48,370.00L1509.09,371.50L1509.72,373.00L1510.39,374.50L1511.07,376.00L1511.76,377.50L1512.45,379.00L1513.14,380.50L1513.81,382.00L1514.45,383.50L1515.06,385.00L1515.62,386.50L1516.14,388.00L1516.59,389.50L1516.98,391.00L1517.29,392.50L1517.52,394.00L1517.67,395.50L1517.75,397.00L1517.76,398.50L1517.71,400.00L1517.59,401.50L1517.40,403.00L1517.16,404.50L1516.86,406.00L1516.51,407.50L1516.11,409.00L1515.66,410.50L1515.17,412.00L1514.64,413.50L1514.08,415.00L1513.50,416.50L1512.90,418.00L1512.28,419.50L1511.66,421.00L1511.03,422.50L1510.42,424.00L1509.81,425.50L1509.22,427.00L1508.65,428.50L1508.11,430.00L1507.60,431.50L1507.14,433.00L1506.71,434.50L1506.31,436.00L1505.95,437.50L1505.62,439.00L1505.33,440.50L1505.06,442.00L1504.82,443.50L1504.60,445.00L1504.41,446.50L1504.24,448.00L1504.10,449.50L1503.97,451.00L1503.86,452.50L1503.77,454.00L1503.70,455.50L1503.64,457.00L1503.59,458.50L1503.55,460.00L1503.52,461.50L1503.50,463.00L1503.49,464.50L1503.48,466.00L1503.48,467.50L1503.47,469.00L1503.47,470.50L1503.47,472.00L1503.46,473.50L1503.45,475.00L1503.43,476.50L1503.41,478.00L1503.38,479.50L1503.33,481.00L1503.30,482.50L1503.30,484.00L1503.30,485.50L1503.30,487.00L1503.30,488.50L1503.30,490.00L1503.30,491.50L1503.30,493.00L1503.30,494.50L1503.30,496.00L1503.30,497.50L1503.30,499.00L1503.30,500.50L1503.30,502.00L1503.30,503.50L1503.30,505.00L1503.30,506.50L1503.45,508.00L1503.66,509.50L1503.90,511.00L1504.17,512.50L1504.47,514.00L1504.80,515.50L1505.16,517.00L1505.54,518.50L1505.94,520.00L1506.37,521.50L1506.82,523.00L1507.29,524.50L1507.78,526.00L1508.29,527.50L1508.81,529.00L1509.35,530.50L1509.90,532.00L1510.46,533.50L1511.04,535.00L1511.63,536.50L1512.22,538.00L1512.83,539.50L1513.45,541.00L1514.08,542.50L1514.73,544.00L1515.40,545.50L1516.09,547.00L1516.81,548.50L1517.56,550.00L1518.34,551.50L1519.16,553.00L1520.02,554.50L1520.91,556.00L1521.86,557.50L1522.85,559.00L1523.89,560.50L1524.98,562.00L1526.13,563.50L1527.34,565.00L1528.61,566.50L1529.95,568.00L1531.36,569.50L1532.84,571.00L1534.39,572.50L1536.02,574.00L1537.73,575.50L1539.52,577.00L1541.40,578.50L1543.37,580.00L1545.43,581.50L1547.59,583.00L1549.84,584.50L1552.20,586.00L1554.66,587.50L1557.23,589.00L1559.91,590.50L1562.70,592.00L1565.61,593.50L1568.63,595.00L1571.78,596.50L1575.06,598.00L1578.45,599.50L1581.95,601.00L1585.54,602.50L1589.20,604.00L1592.93,605.50L1596.69,607.00L1600.47,608.50L1604.27,610.00L1608.06,611.50L1611.82,613.00L1615.54,614.50L1619.21,616.00L1622.81,617.50L1626.32,619.00L1629.72,620.50L1633.00,622.00L1636.15,623.50L1639.14,625.00L1641.97,626.50L1644.61,628.00L1647.04,629.50L1649.26,631.00L1651.25,632.50L1653.02,634.00L1654.57,635.50L1655.90,637.00L1657.03,638.50L1657.96,640.00L1658.69,641.50L1659.23,643.00L1659.59,644.50L1659.77,646.00L1659.78,647.50L1659.61,649.00L1659.28,650.50L1658.77,652.00L1658.09,653.50L1657.23,655.00L1656.20,656.50L1654.99,658.00L1653.60,659.50L1652.03,661.00L1650.28,662.50L1648.35,664.00L1646.27,665.50L1644.04,667.00L1641.70,668.50L1639.25,670.00L1636.71,671.50L1634.11,673.00L1631.45,674.50L1628.76,676.00L1626.04,677.50L1623.32,679.00L1620.61,680.50L1617.93,682.00L1615.28,683.50L1612.69,685.00L1610.17,686.50L1607.73,688.00L1605.40,689.50L1603.18,691.00L1601.09,692.50L1599.16,694.00L1597.38,695.50L1595.78,697.00L1594.37,698.50L1593.17,700.00L1592.19,701.50L1591.43,703.00L1590.87,704.50L1590.51,706.00L1590.33,707.50L1590.34,709.00L1590.52,710.50L1590.86,712.00L1591.36,713.50L1592.00,715.00L1592.77,716.50L1593.68,718.00L1594.71,719.50L1595.84,721.00L1597.08,722.50L1598.41,724.00L1599.81,725.50L1601.24,727.00L1602.70,728.50L1604.15,730.00L1605.57,731.50L1606.94,733.00L1608.23,734.50L1609.42,736.00L1610.50,737.50L1611.47,739.00L1612.34,740.50L1613.10,742.00L1613.77,743.50L1614.35,745.00L1614.83,746.50L1615.23,748.00L1615.55,749.50L1615.79,751.00L1615.96,752.50L1616.06,754.00L1616.09,755.50L1616.07,757.00L1615.98,758.50L1615.84,760.00L1615.65,761.50L1615.42,763.00L1615.14,764.50L1614.83,766.00L1614.48,767.50L1614.10,769.00L1613.70,770.50L1613.27,772.00L1612.82,773.50L1612.36,775.00L1611.88,776.50L1611.38,778.00L1610.86,779.50L1610.31,781.00L1609.74,782.50L1609.13,784.00L1608.49,785.50L1607.81,787.00L1607.10,788.50L1606.35,790.00L1605.55,791.50L1604.71,793.00L1603.82,794.50L1602.89,796.00L1601.90,797.50L1600.87,799.00L1599.79,800.50L1598.66,802.00L1597.50,803.50L1596.30,805.00L1595.07,806.50L1593.80,808.00L1592.50,809.50L1591.17,811.00L1589.82,812.50L1588.45,814.00L1587.05,815.50L1585.64,817.00L1584.21,818.50L1582.76,820.00L1581.31,821.50L1579.85,823.00L1578.38,824.50L1576.91,826.00L1575.43,827.50L1573.96,829.00L1572.49,830.50L1571.03,832.00L1569.57,833.50L1568.13,835.00L1566.71,836.50L1565.33,838.00L1563.99,839.50L1562.71,841.00L1561.49,842.50L1560.35,844.00L1559.29,845.50L1558.33,847.00L1557.48,848.50L1556.74,850.00L1556.13,851.50L1555.65,853.00L1555.32,854.50L1555.14,856.00L1555.12,857.50L1555.28,859.00L1555.61,860.50L1556.14,862.00L1556.88,863.50L1557.82,865.00L1558.98,866.50L1560.38,868.00L1561.00,868.60" fill="none" stroke="#cda024" stroke-width="4.5" stroke-linejoin="round" stroke-linecap="butt"/>
<path d="M82.0,109.6H322.0" stroke="#1530dc" stroke-width="2.7" stroke-dasharray="19.8 8.6" fill="none"/>
<path d="M221.0,625.8H321.5" stroke="#1530dc" stroke-width="2.7" stroke-dasharray="19.8 8.6" fill="none"/>
<path d="M299.0,119.2V612.6" stroke="#1530dc" stroke-width="3.2" fill="none"/>
<path d="M299.0,108.4L293.0,120.2L305.0,120.2Z" fill="#1530dc"/>
<path d="M299.0,623.4L293.0,611.6L305.0,611.6Z" fill="#1530dc"/>
<text x="234.65" y="101.53" font-family="'Liberation Sans', Arial, sans-serif" font-size="32.67" font-weight="bold" fill="#1530dc" textLength="41.36" lengthAdjust="spacingAndGlyphs" style="font-kerning:none">VB</text>
<text x="234.75" y="612.73" font-family="'Liberation Sans', Arial, sans-serif" font-size="31.08" font-weight="bold" fill="#1530dc" textLength="38.72" lengthAdjust="spacingAndGlyphs" style="font-kerning:none">CB</text>
<text x="123.68" y="378.43" font-family="'Liberation Sans', Arial, sans-serif" font-size="28.75" font-weight="bold" fill="#000" textLength="159.46" lengthAdjust="spacingAndGlyphs" style="font-kerning:none">DE= 3.07 eV</text>
<path d="M614.0,201.0H704.0" stroke="#1fa64e" stroke-width="2.7" stroke-dasharray="19.8 8.6" fill="none"/>
<path d="M520.5,750.7H690.5" stroke="#1fa64e" stroke-width="2.7" stroke-dasharray="19.8 8.6" fill="none"/>
<path d="M669.2,207.2V739.8" stroke="#1fa64e" stroke-width="3.2" fill="none"/>
<path d="M669.2,196.4L663.2,208.2L675.2,208.2Z" fill="#1fa64e"/>
<path d="M669.2,750.6L663.2,738.8L675.2,738.8Z" fill="#1fa64e"/>
<text x="598.75" y="193.03" font-family="'Liberation Sans', Arial, sans-serif" font-size="31.08" font-weight="bold" fill="#1fa64e" textLength="40.94" lengthAdjust="spacingAndGlyphs" style="font-kerning:none">VB</text>
<text x="595.67" y="737.73" font-family="'Liberation Sans', Arial, sans-serif" font-size="27.88" font-weight="bold" fill="#1fa64e" textLength="37.87" lengthAdjust="spacingAndGlyphs" style="font-kerning:none">CB</text>
<text x="488.98" y="483.93" font-family="'Liberation Sans', Arial, sans-serif" font-size="28.17" font-weight="bold" fill="#000" textLength="159.46" lengthAdjust="spacingAndGlyphs" style="font-kerning:none">DE= 3.16 eV</text>
<path d="M958.5,216.8H1052.5" stroke="#000" stroke-width="2.7" stroke-dasharray="19.8 8.6" fill="none"/>
<path d="M893.4,699.9H1052.8" stroke="#000" stroke-width="2.7" stroke-dasharray="19.8 8.6" fill="none"/>
<path d="M1020.7,228.4V688.6" stroke="#000" stroke-width="3.2" fill="none"/>
<path d="M1020.7,217.6L1014.7,229.4L1026.7,229.4Z" fill="#000"/>
<path d="M1020.7,699.4L1014.7,687.6L1026.7,687.6Z" fill="#000"/>
<text x="957.75" y="205.13" font-family="'Liberation Sans', Arial, sans-serif" font-size="31.08" font-weight="bold" fill="#000" textLength="39.90" lengthAdjust="spacingAndGlyphs" style="font-kerning:none">VB</text>
<text x="956.85" y="689.73" font-family="'Liberation Sans', Arial, sans-serif" font-size="29.77" font-weight="bold" fill="#000" textLength="38.72" lengthAdjust="spacingAndGlyphs" style="font-kerning:none">CB</text>
<text x="852.48" y="458.13" font-family="'Liberation Sans', Arial, sans-serif" font-size="28.17" font-weight="bold" fill="#000" textLength="159.67" lengthAdjust="spacingAndGlyphs" style="font-kerning:none">DE= 2.84 eV</text>
<path d="M1296.0,216.8H1390.0" stroke="#e01a20" stroke-width="2.7" stroke-dasharray="19.8 8.6" fill="none"/>
<path d="M1257.0,570.6H1390.0" stroke="#e01a20" stroke-width="2.7" stroke-dasharray="19.8 8.6" fill="none"/>
<path d="M1357.9,228.0V559.2" stroke="#e01a20" stroke-width="3.2" fill="none"/>
<path d="M1357.9,217.2L1351.9,229.0L1363.9,229.0Z" fill="#e01a20"/>
<path d="M1357.9,570.0L1351.9,558.2L1363.9,558.2Z" fill="#e01a20"/>
<text x="1301.55" y="205.13" font-family="'Liberation Sans', Arial, sans-serif" font-size="31.08" font-weight="bold" fill="#e01a20" textLength="39.90" lengthAdjust="spacingAndGlyphs" style="font-kerning:none">VB</text>
<text x="1302.37" y="555.13" font-family="'Liberation Sans', Arial, sans-serif" font-size="29.48" font-weight="bold" fill="#e01a20" textLength="37.97" lengthAdjust="spacingAndGlyphs" style="font-kerning:none">CB</text>
<text x="1183.58" y="403.43" font-family="'Liberation Sans', Arial, sans-serif" font-size="26.86" font-weight="bold" fill="#000" textLength="158.96" lengthAdjust="spacingAndGlyphs" style="font-kerning:none">DE= 2.20 eV</text>
<text x="14.46" y="19.13" font-family="'Liberation Sans', Arial, sans-serif" font-size="25.12" font-weight="bold" fill="#000" textLength="22.50" lengthAdjust="spacingAndGlyphs" style="font-kerning:none">-3</text>
<text x="14.50" y="190.69" font-family="'Liberation Sans', Arial, sans-serif" font-size="25.12" font-weight="bold" fill="#000" textLength="21.68" lengthAdjust="spacingAndGlyphs" style="font-kerning:none">-4</text>
<text x="14.47" y="362.25" font-family="'Liberation Sans', Arial, sans-serif" font-size="25.12" font-weight="bold" fill="#000" textLength="22.28" lengthAdjust="spacingAndGlyphs" style="font-kerning:none">-5</text>
<text x="14.46" y="533.81" font-family="'Liberation Sans', Arial, sans-serif" font-size="25.12" font-weight="bold" fill="#000" textLength="22.50" lengthAdjust="spacingAndGlyphs" style="font-kerning:none">-6</text>
<text x="14.45" y="705.37" font-family="'Liberation Sans', Arial, sans-serif" font-size="25.12" font-weight="bold" fill="#000" textLength="22.72" lengthAdjust="spacingAndGlyphs" style="font-kerning:none">-7</text>
<text x="14.47" y="876.93" font-family="'Liberation Sans', Arial, sans-serif" font-size="25.12" font-weight="bold" fill="#000" textLength="22.36" lengthAdjust="spacingAndGlyphs" style="font-kerning:none">-8</text>
<text x="57.94" y="914.13" font-family="'Liberation Sans', Arial, sans-serif" font-size="24.47" font-weight="bold" fill="#000" textLength="14.15" lengthAdjust="spacingAndGlyphs" style="font-kerning:none">0</text>
<text x="131.45" y="914.13" font-family="'Liberation Sans', Arial, sans-serif" font-size="24.47" font-weight="bold" fill="#000" textLength="13.52" lengthAdjust="spacingAndGlyphs" style="font-kerning:none">5</text>
<text x="197.04" y="914.13" font-family="'Liberation Sans', Arial, sans-serif" font-size="24.47" font-weight="bold" fill="#000" textLength="28.35" lengthAdjust="spacingAndGlyphs" style="font-kerning:none">10</text>
<text x="270.32" y="914.13" font-family="'Liberation Sans', Arial, sans-serif" font-size="24.47" font-weight="bold" fill="#000" textLength="27.98" lengthAdjust="spacingAndGlyphs" style="font-kerning:none">15</text>
<text x="344.29" y="914.13" font-family="'Liberation Sans', Arial, sans-serif" font-size="24.47" font-weight="bold" fill="#000" textLength="27.58" lengthAdjust="spacingAndGlyphs" style="font-kerning:none">20</text>
<text x="370.26" y="19.13" font-family="'Liberation Sans', Arial, sans-serif" font-size="25.12" font-weight="bold" fill="#000" textLength="22.50" lengthAdjust="spacingAndGlyphs" style="font-kerning:none">-3</text>
<text x="370.30" y="190.69" font-family="'Liberation Sans', Arial, sans-serif" font-size="25.12" font-weight="bold" fill="#000" textLength="21.68" lengthAdjust="spacingAndGlyphs" style="font-kerning:none">-4</text>
<text x="370.27" y="362.25" font-family="'Liberation Sans', Arial, sans-serif" font-size="25.12" font-weight="bold" fill="#000" textLength="22.28" lengthAdjust="spacingAndGlyphs" style="font-kerning:none">-5</text>
<text x="370.26" y="533.81" font-family="'Liberation Sans', Arial, sans-serif" font-size="25.12" font-weight="bold" fill="#000" textLength="22.50" lengthAdjust="spacingAndGlyphs" style="font-kerning:none">-6</text>
<text x="370.25" y="705.37" font-family="'Liberation Sans', Arial, sans-serif" font-size="25.12" font-weight="bold" fill="#000" textLength="22.72" lengthAdjust="spacingAndGlyphs" style="font-kerning:none">-7</text>
<text x="370.27" y="876.93" font-family="'Liberation Sans', Arial, sans-serif" font-size="25.12" font-weight="bold" fill="#000" textLength="22.36" lengthAdjust="spacingAndGlyphs" style="font-kerning:none">-8</text>
<text x="413.14" y="914.13" font-family="'Liberation Sans', Arial, sans-serif" font-size="24.47" font-weight="bold" fill="#000" textLength="14.15" lengthAdjust="spacingAndGlyphs" style="font-kerning:none">0</text>
<text x="486.80" y="914.13" font-family="'Liberation Sans', Arial, sans-serif" font-size="24.47" font-weight="bold" fill="#000" textLength="13.52" lengthAdjust="spacingAndGlyphs" style="font-kerning:none">5</text>
<text x="552.54" y="914.13" font-family="'Liberation Sans', Arial, sans-serif" font-size="24.47" font-weight="bold" fill="#000" textLength="28.35" lengthAdjust="spacingAndGlyphs" style="font-kerning:none">10</text>
<text x="625.97" y="914.13" font-family="'Liberation Sans', Arial, sans-serif" font-size="24.47" font-weight="bold" fill="#000" textLength="27.98" lengthAdjust="spacingAndGlyphs" style="font-kerning:none">15</text>
<text x="700.09" y="914.13" font-family="'Liberation Sans', Arial, sans-serif" font-size="24.47" font-weight="bold" fill="#000" textLength="27.58" lengthAdjust="spacingAndGlyphs" style="font-kerning:none">20</text>
<text x="729.66" y="19.13" font-family="'Liberation Sans', Arial, sans-serif" font-size="25.12" font-weight="bold" fill="#000" textLength="22.50" lengthAdjust="spacingAndGlyphs" style="font-kerning:none">-3</text>
<text x="729.70" y="190.69" font-family="'Liberation Sans', Arial, sans-serif" font-size="25.12" font-weight="bold" fill="#000" textLength="21.68" lengthAdjust="spacingAndGlyphs" style="font-kerning:none">-4</text>
<text x="729.67" y="362.25" font-family="'Liberation Sans', Arial, sans-serif" font-size="25.12" font-weight="bold" fill="#000" textLength="22.28" lengthAdjust="spacingAndGlyphs" style="font-kerning:none">-5</text>
<text x="729.66" y="533.81" font-family="'Liberation Sans', Arial, sans-serif" font-size="25.12" font-weight="bold" fill="#000" textLength="22.50" lengthAdjust="spacingAndGlyphs" style="font-kerning:none">-6</text>
<text x="729.65" y="705.37" font-family="'Liberation Sans', Arial, sans-serif" font-size="25.12" font-weight="bold" fill="#000" textLength="22.72" lengthAdjust="spacingAndGlyphs" style="font-kerning:none">-7</text>
<text x="729.67" y="876.93" font-family="'Liberation Sans', Arial, sans-serif" font-size="25.12" font-weight="bold" fill="#000" textLength="22.36" lengthAdjust="spacingAndGlyphs" style="font-kerning:none">-8</text>
<text x="771.74" y="914.13" font-family="'Liberation Sans', Arial, sans-serif" font-size="24.47" font-weight="bold" fill="#000" textLength="14.15" lengthAdjust="spacingAndGlyphs" style="font-kerning:none">0</text>
<text x="845.38" y="914.13" font-family="'Liberation Sans', Arial, sans-serif" font-size="24.47" font-weight="bold" fill="#000" textLength="13.52" lengthAdjust="spacingAndGlyphs" style="font-kerning:none">5</text>
<text x="911.09" y="914.13" font-family="'Liberation Sans', Arial, sans-serif" font-size="24.47" font-weight="bold" fill="#000" textLength="28.35" lengthAdjust="spacingAndGlyphs" style="font-kerning:none">10</text>
<text x="984.49" y="914.13" font-family="'Liberation Sans', Arial, sans-serif" font-size="24.47" font-weight="bold" fill="#000" textLength="27.98" lengthAdjust="spacingAndGlyphs" style="font-kerning:none">15</text>
<text x="1058.59" y="914.13" font-family="'Liberation Sans', Arial, sans-serif" font-size="24.47" font-weight="bold" fill="#000" textLength="27.58" lengthAdjust="spacingAndGlyphs" style="font-kerning:none">20</text>
<text x="1090.06" y="19.13" font-family="'Liberation Sans', Arial, sans-serif" font-size="25.12" font-weight="bold" fill="#000" textLength="22.50" lengthAdjust="spacingAndGlyphs" style="font-kerning:none">-3</text>
<text x="1090.10" y="190.69" font-family="'Liberation Sans', Arial, sans-serif" font-size="25.12" font-weight="bold" fill="#000" textLength="21.68" lengthAdjust="spacingAndGlyphs" style="font-kerning:none">-4</text>
<text x="1090.07" y="362.25" font-family="'Liberation Sans', Arial, sans-serif" font-size="25.12" font-weight="bold" fill="#000" textLength="22.28" lengthAdjust="spacingAndGlyphs" style="font-kerning:none">-5</text>
<text x="1090.06" y="533.81" font-family="'Liberation Sans', Arial, sans-serif" font-size="25.12" font-weight="bold" fill="#000" textLength="22.50" lengthAdjust="spacingAndGlyphs" style="font-kerning:none">-6</text>
<text x="1090.05" y="705.37" font-family="'Liberation Sans', Arial, sans-serif" font-size="25.12" font-weight="bold" fill="#000" textLength="22.72" lengthAdjust="spacingAndGlyphs" style="font-kerning:none">-7</text>
<text x="1090.07" y="876.93" font-family="'Liberation Sans', Arial, sans-serif" font-size="25.12" font-weight="bold" fill="#000" textLength="22.36" lengthAdjust="spacingAndGlyphs" style="font-kerning:none">-8</text>
<text x="1133.74" y="914.13" font-family="'Liberation Sans', Arial, sans-serif" font-size="24.47" font-weight="bold" fill="#000" textLength="14.15" lengthAdjust="spacingAndGlyphs" style="font-kerning:none">0</text>
<text x="1207.30" y="914.13" font-family="'Liberation Sans', Arial, sans-serif" font-size="24.47" font-weight="bold" fill="#000" textLength="13.52" lengthAdjust="spacingAndGlyphs" style="font-kerning:none">5</text>
<text x="1272.94" y="914.13" font-family="'Liberation Sans', Arial, sans-serif" font-size="24.47" font-weight="bold" fill="#000" textLength="28.35" lengthAdjust="spacingAndGlyphs" style="font-kerning:none">10</text>
<text x="1346.27" y="914.13" font-family="'Liberation Sans', Arial, sans-serif" font-size="24.47" font-weight="bold" fill="#000" textLength="27.98" lengthAdjust="spacingAndGlyphs" style="font-kerning:none">15</text>
<text x="1420.29" y="914.13" font-family="'Liberation Sans', Arial, sans-serif" font-size="24.47" font-weight="bold" fill="#000" textLength="27.58" lengthAdjust="spacingAndGlyphs" style="font-kerning:none">20</text>
<text x="1452.96" y="19.13" font-family="'Liberation Sans', Arial, sans-serif" font-size="25.12" font-weight="bold" fill="#000" textLength="22.50" lengthAdjust="spacingAndGlyphs" style="font-kerning:none">-3</text>
<text x="1453.00" y="190.69" font-family="'Liberation Sans', Arial, sans-serif" font-size="25.12" font-weight="bold" fill="#000" textLength="21.68" lengthAdjust="spacingAndGlyphs" style="font-kerning:none">-4</text>
<text x="1452.97" y="362.25" font-family="'Liberation Sans', Arial, sans-serif" font-size="25.12" font-weight="bold" fill="#000" textLength="22.28" lengthAdjust="spacingAndGlyphs" style="font-kerning:none">-5</text>
<text x="1452.96" y="533.81" font-family="'Liberation Sans', Arial, sans-serif" font-size="25.12" font-weight="bold" fill="#000" textLength="22.50" lengthAdjust="spacingAndGlyphs" style="font-kerning:none">-6</text>
<text x="1452.95" y="705.37" font-family="'Liberation Sans', Arial, sans-serif" font-size="25.12" font-weight="bold" fill="#000" textLength="22.72" lengthAdjust="spacingAndGlyphs" style="font-kerning:none">-7</text>
<text x="1452.97" y="876.93" font-family="'Liberation Sans', Arial, sans-serif" font-size="25.12" font-weight="bold" fill="#000" textLength="22.36" lengthAdjust="spacingAndGlyphs" style="font-kerning:none">-8</text>
<text x="1495.94" y="914.13" font-family="'Liberation Sans', Arial, sans-serif" font-size="24.47" font-weight="bold" fill="#000" textLength="14.15" lengthAdjust="spacingAndGlyphs" style="font-kerning:none">0</text>
<text x="1569.65" y="914.13" font-family="'Liberation Sans', Arial, sans-serif" font-size="24.47" font-weight="bold" fill="#000" textLength="13.52" lengthAdjust="spacingAndGlyphs" style="font-kerning:none">5</text>
<text x="1635.44" y="914.13" font-family="'Liberation Sans', Arial, sans-serif" font-size="24.47" font-weight="bold" fill="#000" textLength="28.35" lengthAdjust="spacingAndGlyphs" style="font-kerning:none">10</text>
<text x="1708.92" y="914.13" font-family="'Liberation Sans', Arial, sans-serif" font-size="24.47" font-weight="bold" fill="#000" textLength="27.98" lengthAdjust="spacingAndGlyphs" style="font-kerning:none">15</text>
<text x="1783.09" y="914.13" font-family="'Liberation Sans', Arial, sans-serif" font-size="24.47" font-weight="bold" fill="#000" textLength="27.58" lengthAdjust="spacingAndGlyphs" style="font-kerning:none">20</text>
<text x="276.40" y="46.03" font-family="'Liberation Sans', Arial, sans-serif" font-size="33.55" font-weight="bold" fill="#000" textLength="63.48" lengthAdjust="spacingAndGlyphs" style="font-kerning:none">ZnO</text>
<text x="631.99" y="46.03" font-family="'Liberation Sans', Arial, sans-serif" font-size="33.98" font-weight="bold" fill="#000" textLength="52.68" lengthAdjust="spacingAndGlyphs" style="font-kerning:none">TiO</text>
<text x="686.79" y="55.43" font-family="'Liberation Sans', Arial, sans-serif" font-size="21.03" font-weight="bold" fill="#000" textLength="12.13" lengthAdjust="spacingAndGlyphs" style="font-kerning:none">2</text>
<text x="914.69" y="43.93" font-family="'Liberation Sans', Arial, sans-serif" font-size="34.27" font-weight="bold" fill="#000" textLength="129.42" lengthAdjust="spacingAndGlyphs" style="font-kerning:none">ZnO-TiO</text>
<text x="1045.55" y="52.83" font-family="'Liberation Sans', Arial, sans-serif" font-size="21.17" font-weight="bold" fill="#000" textLength="11.21" lengthAdjust="spacingAndGlyphs" style="font-kerning:none">2</text>
<text x="1231.90" y="45.93" font-family="'Liberation Sans', Arial, sans-serif" font-size="33.55" font-weight="normal" fill="#000" textLength="129.25" lengthAdjust="spacingAndGlyphs" style="font-kerning:none" stroke="#000" stroke-width="0.9">ZnO-TiO</text>
<text x="1362.23" y="54.83" font-family="'Liberation Sans', Arial, sans-serif" font-size="20.03" font-weight="normal" fill="#000" textLength="12.33" lengthAdjust="spacingAndGlyphs" style="font-kerning:none" stroke="#000" stroke-width="0.6">2</text>
<text x="1376.15" y="51.31" font-family="'Liberation Sans', Arial, sans-serif" font-size="43.27" font-weight="normal" fill="#000" textLength="13.00" lengthAdjust="spacingAndGlyphs" style="font-kerning:none" stroke="#000" stroke-width="0.9">/</text>
<text x="1391.09" y="45.93" font-family="'Liberation Sans', Arial, sans-serif" font-size="33.55" font-weight="normal" fill="#000" textLength="39.55" lengthAdjust="spacingAndGlyphs" style="font-kerning:none" stroke="#000" stroke-width="0.9">Ag</text>
<text x="1687.27" y="51.63" font-family="'Liberation Sans', Arial, sans-serif" font-size="38.49" font-weight="bold" fill="#000" textLength="47.04" lengthAdjust="spacingAndGlyphs" style="font-kerning:none">Ag</text>
<text x="1734.43" y="62.43" font-family="'Liberation Sans', Arial, sans-serif" font-size="24.83" font-weight="bold" fill="#000" textLength="13.16" lengthAdjust="spacingAndGlyphs" style="font-kerning:none">7</text>
<text x="791.91" y="953.93" font-family="'Liberation Sans', Arial, sans-serif" font-size="24.53" font-weight="bold" fill="#000" textLength="268.26" lengthAdjust="spacingAndGlyphs" style="font-kerning:none">Density of States (Dos)</text>
<text x="68.24" y="987.23" font-family="'Liberation Sans', Arial, sans-serif" font-size="28.17" font-weight="bold" fill="#000" textLength="279.31" lengthAdjust="spacingAndGlyphs" style="font-kerning:none">CB: Conduction band</text>
<text x="377.76" y="987.23" font-family="'Liberation Sans', Arial, sans-serif" font-size="28.17" font-weight="bold" fill="#000" textLength="233.18" lengthAdjust="spacingAndGlyphs" style="font-kerning:none">VB: Valence Band</text>
<g transform="translate(20.0,506.6) rotate(-90)"><text x="-1.18" y="0.03" font-family="'Liberation Sans', Arial, sans-serif" font-size="24.97" font-weight="bold" fill="#000" textLength="135.55" lengthAdjust="spacingAndGlyphs" style="font-kerning:none">Energy (eV)</text></g>
</svg></div></body></html>
